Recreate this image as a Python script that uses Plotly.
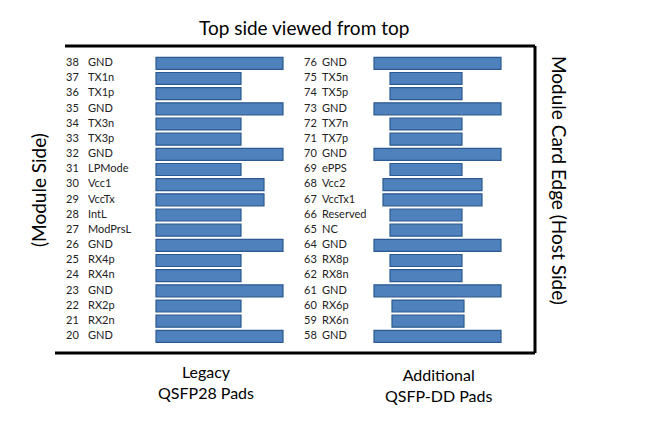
import plotly.graph_objects as go

# pin numbers and signal names, top row first
left_pins = [38, 37, 36, 35, 34, 33, 32, 31, 30, 29, 28, 27, 26, 25, 24, 23, 22, 21, 20]
left_names = ["GND", "TX1n", "TX1p", "GND", "TX3n", "TX3p", "GND", "LPMode", "Vcc1", "VccTx",
              "IntL", "ModPrsL", "GND", "RX4p", "RX4n", "GND", "RX2p", "RX2n", "GND"]
right_pins = [76, 75, 74, 73, 72, 71, 70, 69, 68, 67, 66, 65, 64, 63, 62, 61, 60, 59, 58]
right_names = ["GND", "TX5n", "TX5p", "GND", "TX7n", "TX7p", "GND", "ePPS", "Vcc2", "VccTx1",
               "Reserved", "NC", "GND", "RX8p", "RX8n", "GND", "RX6p", "RX6n", "GND"]

# pad extents along the card (pixel-like units)
left_pad_start = [156] * 19
left_pad_end = [283, 241, 241, 283, 241, 241, 283, 241, 264, 264,
                241, 241, 283, 241, 241, 283, 241, 241, 283]
right_pad_start = [374, 390, 390, 374, 390, 390, 374, 390, 383, 383,
                   390, 390, 374, 390, 390, 374, 392, 392, 374]
right_pad_end = [501, 462, 462, 501, 462, 462, 501, 462, 482, 482,
                 462, 462, 501, 462, 462, 501, 464, 464, 501]

W, H = 650, 434
FONT = "Lato"
rows = list(range(len(left_pins)))

# row pitch in pixels, first row centre
pitch = 15.17
first = 63.3

fig = go.Figure()

for starts, ends in [(left_pad_start, left_pad_end), (right_pad_start, right_pad_end)]:
    fig.add_trace(go.Bar(
        orientation='h',
        y=rows,
        base=starts,
        x=[e - s for s, e in zip(starts, ends)],
        width=0.79,
        marker=dict(color='#4F81BD', line=dict(color='#2C5A90', width=1.2)),
        hoverinfo='skip',
        showlegend=False,
    ))

label_font = dict(family=FONT, size=11, color='#222222')
for pins, names, xn, xs in [(left_pins, left_names, 66, 88), (right_pins, right_names, 304, 322)]:
    fig.add_trace(go.Scatter(
        x=[xn] * len(pins), y=rows, mode='text', text=[str(p) for p in pins],
        textposition='middle right', textfont=label_font, showlegend=False, hoverinfo='skip'))
    fig.add_trace(go.Scatter(
        x=[xs] * len(names), y=rows, mode='text', text=names,
        textposition='middle right', textfont=label_font, showlegend=False, hoverinfo='skip'))


def px(x):
    return x / W


def py(y):
    return 1 - y / H


# outline of the module card (open on the left)
line = dict(color='black', width=3)
fig.add_shape(type='line', xref='paper', yref='paper', x0=px(65), y0=py(46), x1=px(535), y1=py(46), line=line)
fig.add_shape(type='line', xref='paper', yref='paper', x0=px(535), y0=py(46), x1=px(535), y1=py(353), line=line)
fig.add_shape(type='line', xref='paper', yref='paper', x0=px(55), y0=py(353), x1=px(535), y1=py(353), line=line)

txt = dict(family=FONT, color='black')
centre = dict(xref='paper', yref='paper', xanchor='center', yanchor='middle', showarrow=False)
fig.add_annotation(x=px(304), y=py(28), text='Top side viewed from top',
                   font=dict(size=19, **txt), **centre)
fig.add_annotation(x=px(38), y=py(190), text='(Module Side)',
                   textangle=-90, font=dict(size=19, **txt), **centre)
fig.add_annotation(x=px(560), y=py(180), text='Module Card Edge (Host Side)',
                   textangle=90, font=dict(size=19, **txt), **centre)
fig.add_annotation(x=px(206), y=py(382), text='Legacy<br>QSFP28 Pads',
                   font=dict(size=16, **txt), **centre)
fig.add_annotation(x=px(438), y=py(385), text='Additional<br>QSFP-DD Pads',
                   font=dict(size=16, **txt), **centre)

fig.update_layout(
    width=W, height=H,
    margin=dict(l=0, r=0, t=0, b=0),
    paper_bgcolor='white', plot_bgcolor='white',
    barmode='overlay',
    xaxis=dict(range=[0, W], visible=False, fixedrange=True),
    yaxis=dict(range=[(H - first) / pitch, -first / pitch], visible=False, fixedrange=True),
)

# drop the default page margin so the figure sits at the window's corner
fig.write_html("out.html", config={'displayModeBar': False},
               post_script="document.body.style.margin = '0';")
